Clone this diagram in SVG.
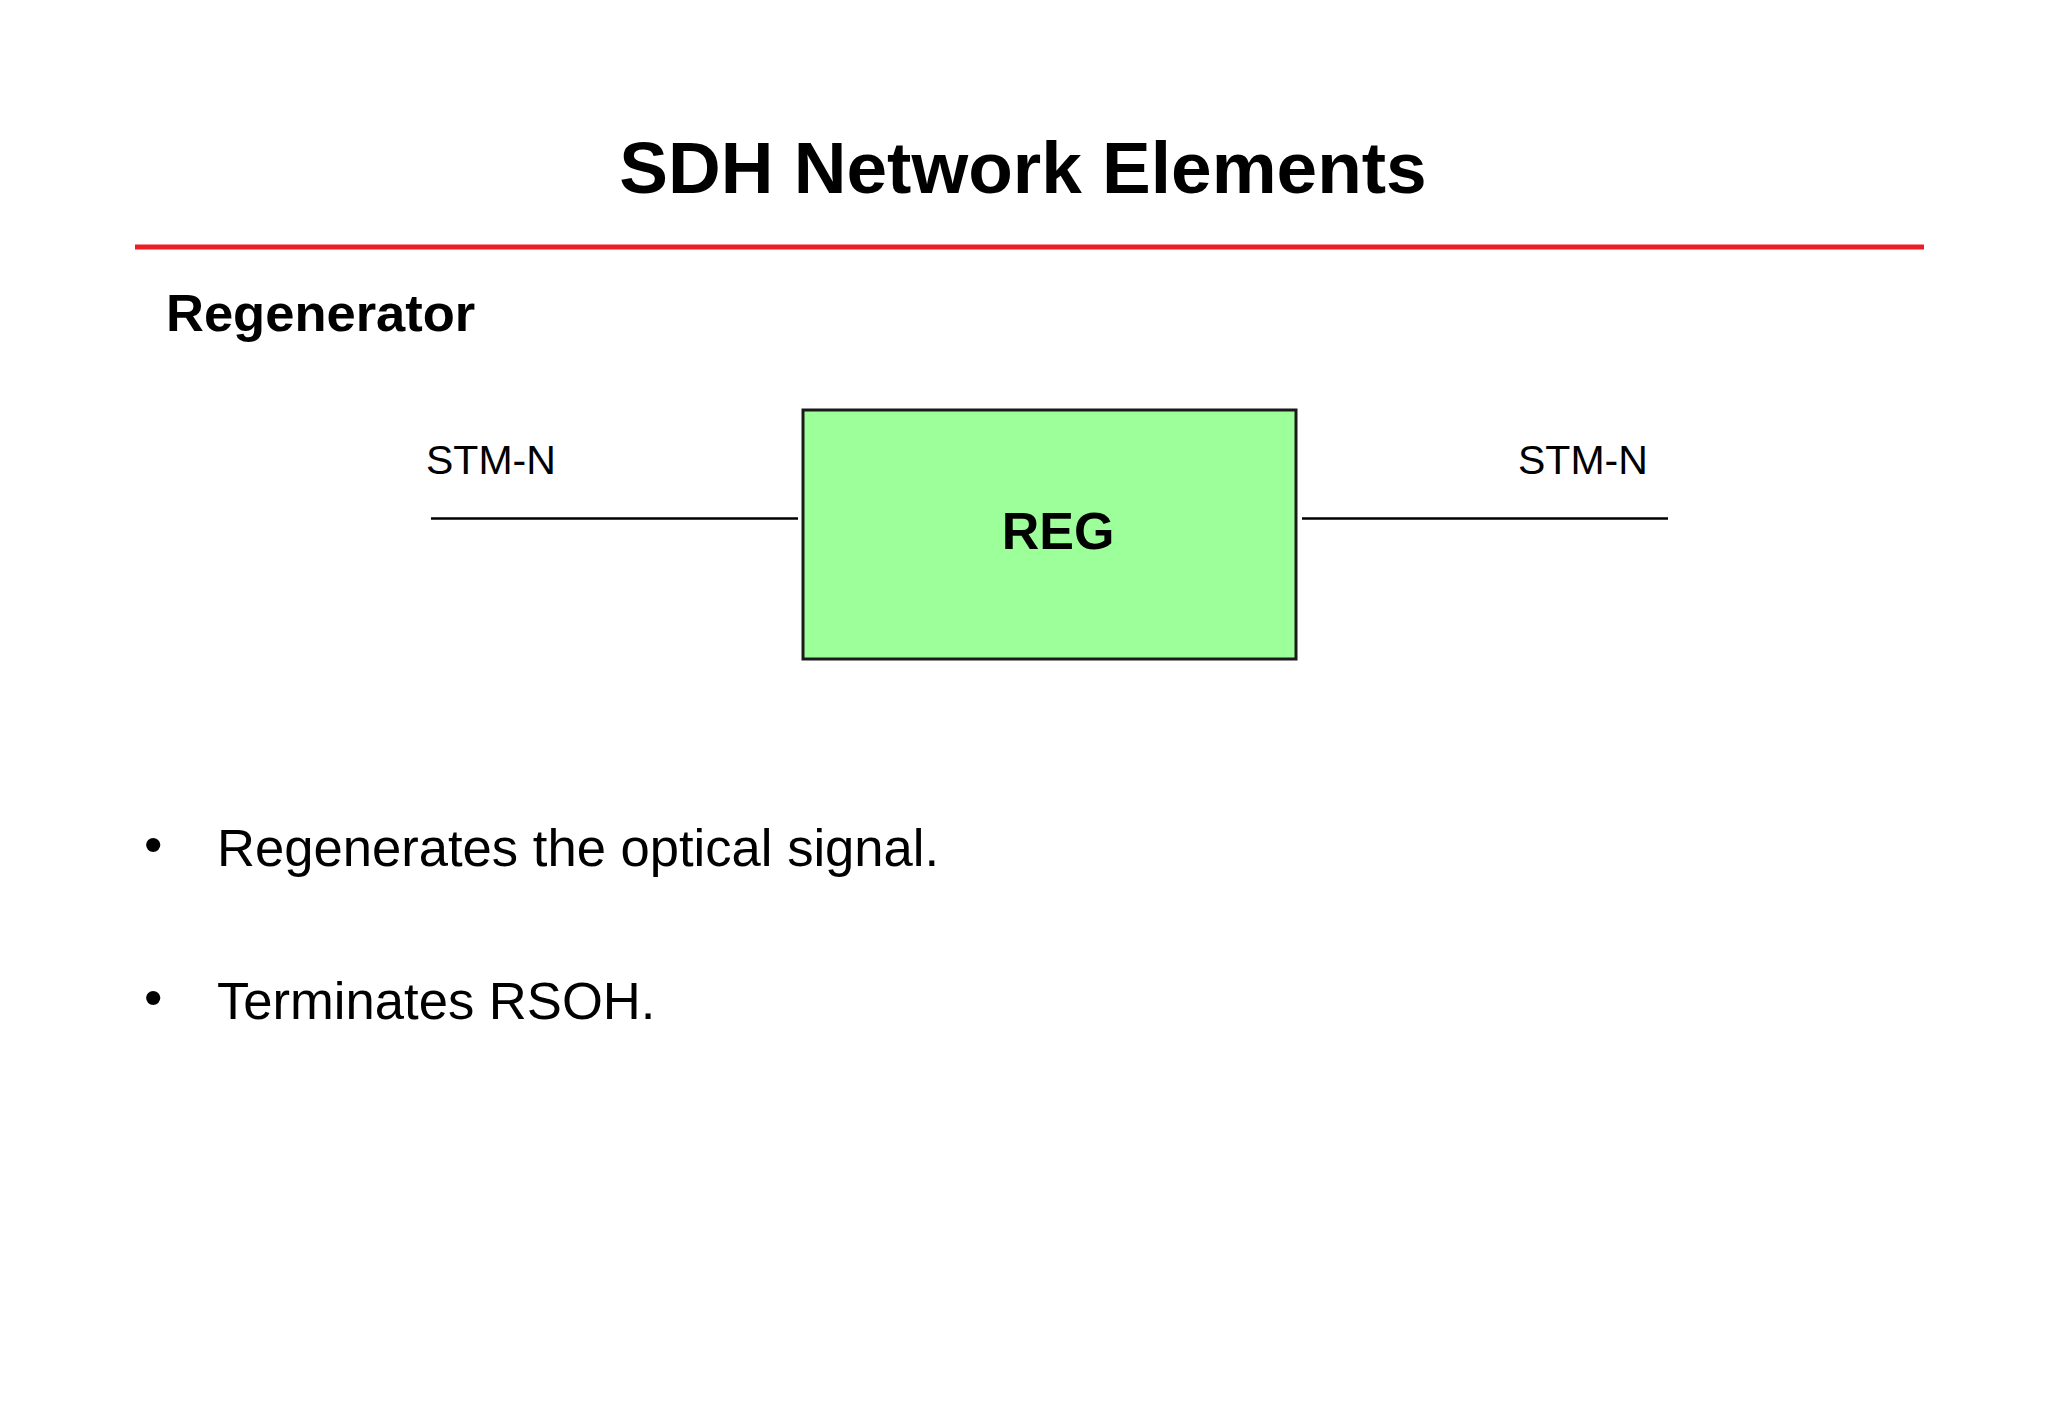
<svg xmlns="http://www.w3.org/2000/svg" width="2048" height="1418" viewBox="0 0 2048 1418">
<style>
text { font-family: "Liberation Sans", Arial, sans-serif; fill: #000; }
.title { font-size: 73px; font-weight: bold; }
.sub { font-size: 52.5px; font-weight: bold; }
.lbl { font-size: 41px; }
.node { font-size: 52px; font-weight: bold; }
.bullet { font-size: 52.6px; }
.conn { stroke: #000; stroke-width: 2.5; fill: none; }
</style>
<rect x="0" y="0" width="2048" height="1418" fill="#fff"/>
<text class="title" x="1023" y="193" text-anchor="middle">SDH Network Elements</text>
<line x1="135" y1="247" x2="1924" y2="247" stroke="#ee1c24" stroke-width="5"/>
<text class="sub" x="166" y="331">Regenerator</text>
<text class="lbl" x="426" y="474">STM-N</text>
<text class="lbl" x="1518" y="474">STM-N</text>
<g id="connectors">
<line class="conn" x1="431" y1="518.5" x2="798" y2="518.5"/>
<line class="conn" x1="1302" y1="518.5" x2="1668" y2="518.5"/>
</g>
<g id="reg">
<rect x="803" y="410" width="493" height="249" fill="#9cff99" stroke="#1a1a1a" stroke-width="3"/>
<text class="node" x="1058" y="549" text-anchor="middle">REG</text>
</g>
<text class="bullet" x="144" y="862">•</text>
<text class="bullet" x="217" y="866">Regenerates the optical signal.</text>
<text class="bullet" x="144" y="1015">•</text>
<text class="bullet" x="217" y="1019">Terminates RSOH.</text>
</svg>
